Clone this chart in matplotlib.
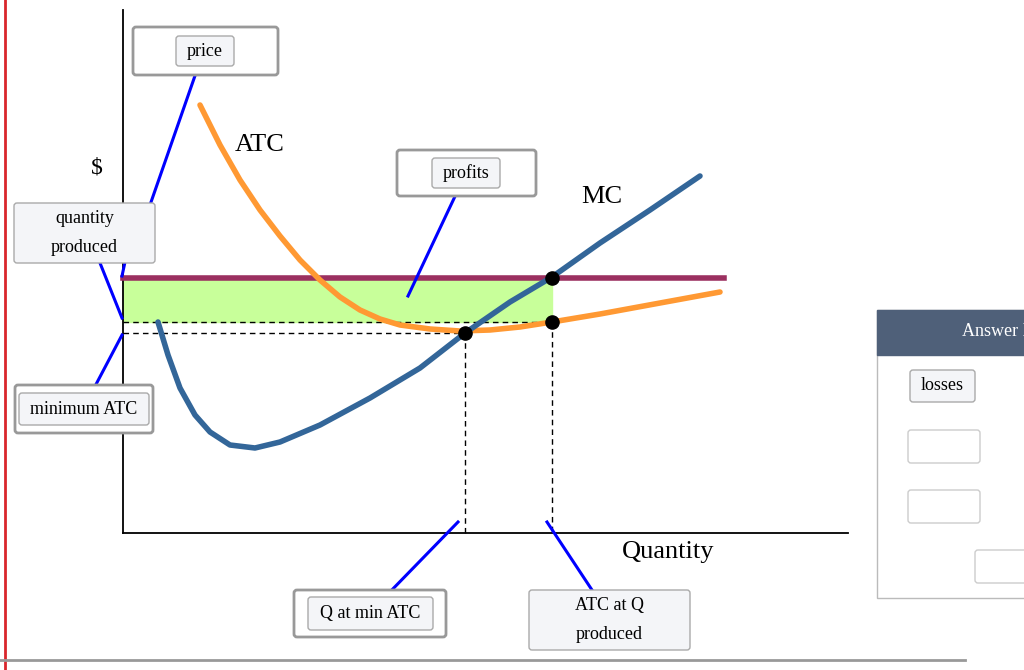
import matplotlib
matplotlib.use('Agg')
import matplotlib.pyplot as plt
from matplotlib.patches import FancyBboxPatch, Rectangle

plt.rcParams['font.family'] = ['Liberation Serif', 'DejaVu Serif']

# ── Data (pixel space of the diagram) ─────────────────────────────────────────
atc_x = [200, 220, 240, 260, 280, 300, 320, 340, 360, 380, 400, 430, 460, 490, 520, 552, 600, 660, 720]
atc_y = [105, 145, 180, 210, 236, 260, 280, 297, 310, 319, 325, 329, 331, 330, 327, 322, 314, 303, 292]
mc_x = [158, 168, 180, 195, 210, 230, 255, 280, 320, 370, 420, 465, 510, 552, 600, 650, 700]
mc_y = [322, 355, 388, 415, 432, 445, 448, 442, 425, 398, 368, 333, 302, 277, 243, 210, 176]
price_y = 278
q_profit, atc_at_q = 552, 322
q_min, atc_min = 465, 333
origin = (123, 533)

fig = plt.figure(figsize=(10.24, 6.7), dpi=100)
ax = fig.add_axes([0, 0, 1, 1])
ax.set_xlim(0, 1024); ax.set_ylim(670, 0); ax.axis('off')

# frame lines
ax.plot([5, 5], [0, 670], color='#d9262c', lw=2)
ax.plot([0, 965], [660, 660], color='#999999', lw=2)

# axes
ax.plot([origin[0], origin[0]], [10, origin[1]], color='black', lw=1.3)
ax.plot([origin[0], 848], [origin[1], origin[1]], color='black', lw=1.3)

# profit area
ax.add_patch(Rectangle((origin[0], price_y), q_profit - origin[0], atc_at_q - price_y,
                       color='#c8ff9a', zorder=1))
ax.plot([origin[0], 724], [price_y, price_y], color='#9b3060', lw=4, zorder=2)
dash = dict(color='black', lw=1, ls=(0, (4, 3)), zorder=2)
ax.plot([origin[0], q_profit], [atc_at_q, atc_at_q], **dash)
ax.plot([origin[0], q_min], [atc_min, atc_min], **dash)
ax.plot([q_min, q_min], [atc_min, origin[1]], **dash)
ax.plot([q_profit, q_profit], [atc_at_q, origin[1]], **dash)

ax.plot(atc_x, atc_y, color='#ff9933', lw=4, solid_capstyle='round', zorder=3)
ax.plot(mc_x, mc_y, color='#336699', lw=4, solid_capstyle='round', zorder=3)
ax.scatter([q_profit, q_profit, q_min], [price_y, atc_at_q, atc_min], s=90, color='black', zorder=5)

ax.text(97, 168, '$', fontsize=17, ha='center', va='center')
ax.text(260, 145, 'ATC', fontsize=19, ha='center', va='center')
ax.text(602, 197, 'MC', fontsize=19, ha='center', va='center')
ax.text(668, 552, 'Quantity', fontsize=19, ha='center', va='center')

# pointer lines
for (x0, y0, x1, y1) in [(197, 70, 150, 205), (125, 262, 122, 276), (100, 263, 122, 318),
                         (122, 335, 92, 392), (458, 190, 408, 296),
                         (458, 522, 385, 597), (547, 522, 592, 590)]:
    ax.plot([x0, x1], [y0, y1], color='#0000ff', lw=2.2, zorder=4)

def box(x0, y0, x1, y1, ec='#999999', fc='white', lw=2, z=6):
    ax.add_patch(FancyBboxPatch((x0, y0), x1 - x0, y1 - y0, boxstyle='round,pad=0,rounding_size=3',
                                ec=ec, fc=fc, lw=lw, zorder=z))

def label(outer, inner, text, fs=13):
    if outer:
        box(*outer)
    box(*inner, ec='#aaaaaa', fc='#f4f5f8', lw=1, z=7)
    ax.text((inner[0] + inner[2]) / 2, (inner[1] + inner[3]) / 2, text, fontsize=fs,
            ha='center', va='center', zorder=8, linespacing=1.9)

label((133, 27, 278, 75), (176, 36, 234, 66), 'price')
label((397, 150, 536, 196), (432, 158, 500, 188), 'profits')
label(None, (14, 203, 155, 263), 'quantity\nproduced')
label((15, 385, 153, 433), (19, 393, 149, 425), 'minimum ATC')
label((294, 590, 446, 637), (308, 597, 433, 630), 'Q at min ATC')
label(None, (529, 590, 690, 650), 'ATC at Q\nproduced')

# answer bank panel
ax.add_patch(Rectangle((877, 310), 160, 288, ec='#bbbbbb', fc='white', lw=1, zorder=6))
ax.add_patch(Rectangle((877, 310), 160, 45, color='#4f6079', zorder=7))
ax.text(962, 332, 'Answer Bank', color='white', fontsize=13, va='center', zorder=8, clip_on=True)
label(None, (910, 370, 975, 402), 'losses', fs=13)
for b in [(908, 430, 980, 463), (908, 490, 980, 523), (975, 550, 1030, 583)]:
    box(*b, ec='#cccccc', fc='white', lw=1, z=7)

fig.savefig('out.png', dpi=100)
